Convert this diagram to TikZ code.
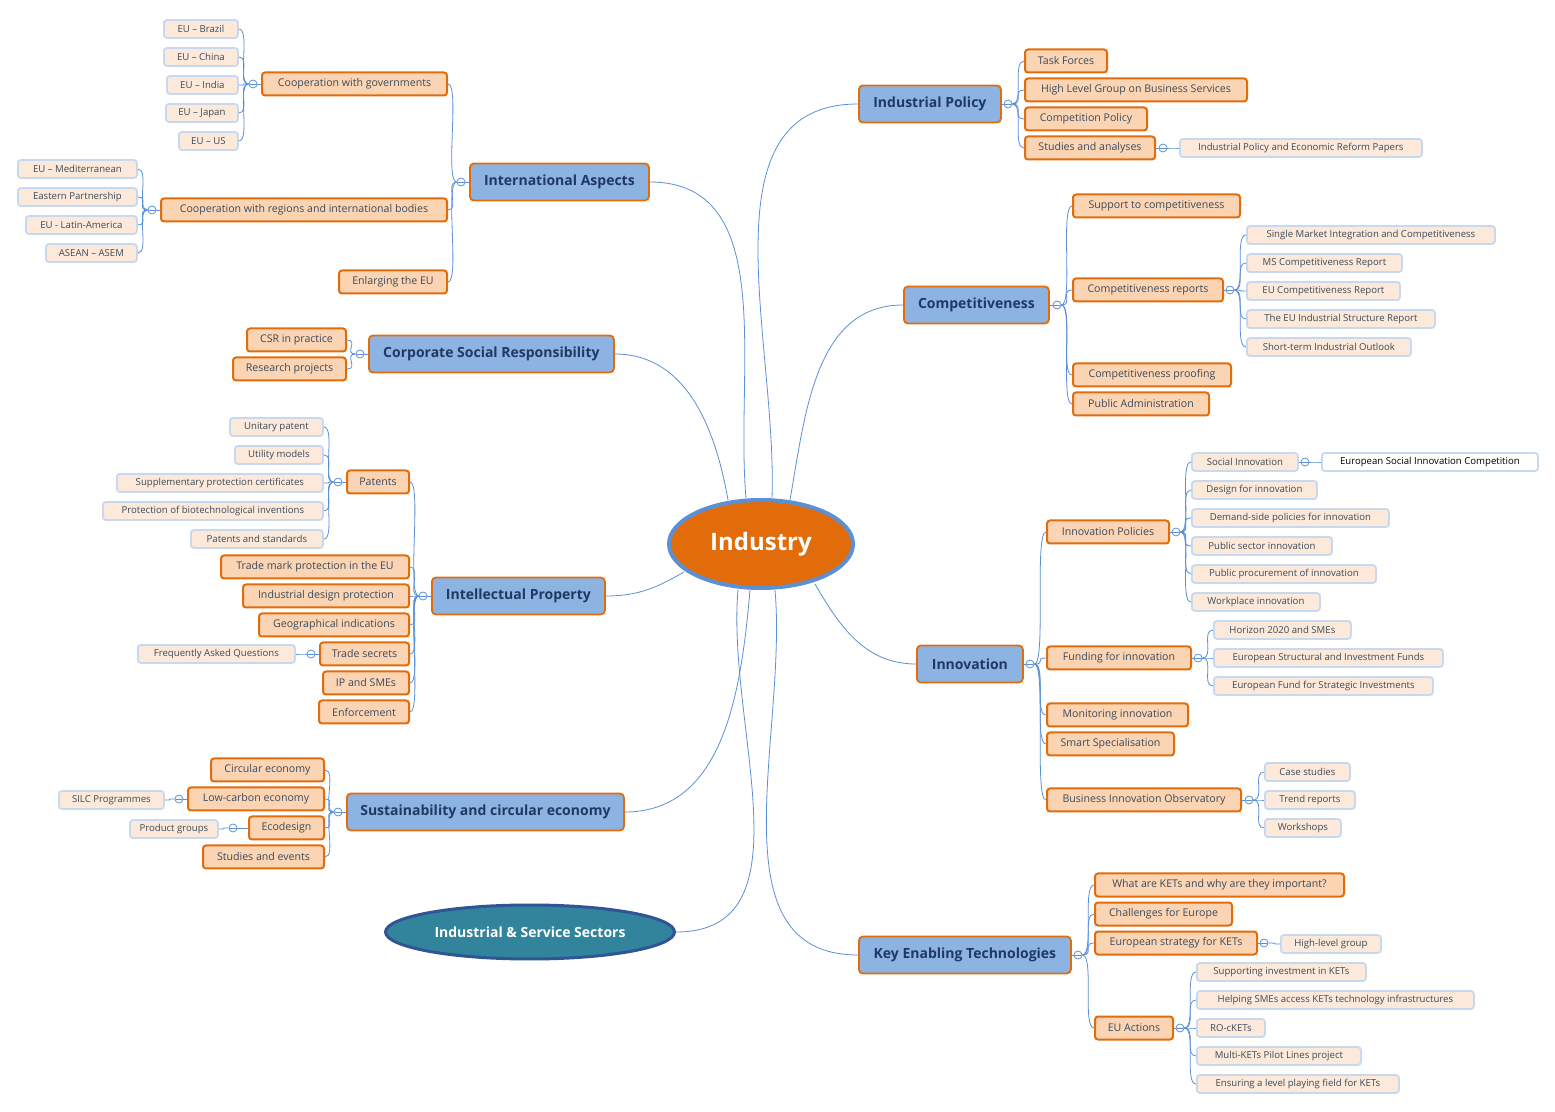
\documentclass[tikz,border=0pt]{standalone}
\usepackage{fontspec}
\setmainfont{Open Sans}
\usetikzlibrary{shapes.geometric}
\definecolor{linec}{HTML}{5B8FD6}
\definecolor{ora}{HTML}{E36C0A}
\definecolor{peach}{HTML}{FBD4B4}
\definecolor{lpeach}{HTML}{FDE9D9}
\definecolor{lblue}{HTML}{C6D9F1}
\definecolor{mblue}{HTML}{8DB3E2}
\definecolor{dblue}{HTML}{1F3864}
\definecolor{txt}{HTML}{3B4A5A}
\definecolor{teal}{HTML}{31849B}
\definecolor{navy}{HTML}{2F5597}
\tikzset{
 conn/.style={draw=linec,line width=0.4pt},
 lthree/.style={rectangle,rounded corners=1.5pt,draw=lblue,fill=lpeach,line width=0.9pt,text=txt,font=\fontsize{4.8}{6}\selectfont,minimum height=9pt,inner sep=1pt},
 lwhite/.style={lthree,fill=white,text=black},
 ltwo/.style={rectangle,rounded corners=1.5pt,draw=ora,fill=peach,line width=1pt,text=txt,font=\fontsize{5.3}{6.5}\selectfont,minimum height=11.5pt,inner sep=1pt},
 lone/.style={rectangle,rounded corners=2pt,draw=ora,fill=mblue,line width=0.9pt,text=dblue,font=\fontsize{7}{8}\selectfont\bfseries,minimum height=18.5pt,inner sep=1pt},
 col/.style={circle,draw=linec,fill=white,inner sep=0pt,minimum size=4pt,line width=0.4pt,
   path picture={\draw[linec,line width=0.35pt] ([xshift=-1.3pt]path picture bounding box.center) -- ([xshift=1.3pt]path picture bounding box.center);}}
}
\newcommand\bx[6]{\node[#2,anchor=west,minimum width={(#4-#3)*0.5pt}] (#1) at (#3,-#5) {#6};}
\newcommand\cl[3]{\node[col] (#1) at (#2,-#3) {};}
\newcommand\br[2]{\draw[conn] (#1.east) .. controls +(12,0) and +(-12,0) .. (#2.west);}
\newcommand\bl[2]{\draw[conn] (#1.west) .. controls +(-12,0) and +(12,0) .. (#2.east);}
\newcommand\pr[2]{\draw[conn] (#1.east) -- (#2.west);}
\newcommand\pl[2]{\draw[conn] (#1.west) -- (#2.east);}
\begin{document}
\begin{tikzpicture}[x=0.5pt,y=0.5pt]
\useasboundingbox[fill=white] (0,0) rectangle (1555,-1112);
% centre
\node[ellipse,fill=ora,draw=linec,line width=2pt,minimum width=92pt,minimum height=44pt,text=white,font=\fontsize{12}{14}\selectfont\bfseries] (ind) at (761,-544) {Industry};
\node[ellipse,fill=teal,draw=navy,line width=1.5pt,minimum width=116pt,minimum height=27pt,text=white,font=\fontsize{7}{8}\selectfont\bfseries] (iss) at (530,-932) {Industrial \& Service Sectors};
% level 1
\bx{ip}{lone}{858}{1000}{104}{Industrial Policy}
\bx{cp}{lone}{903}{1048}{305}{Competitiveness}
\bx{in}{lone}{916}{1022}{664}{Innovation}
\bx{ke}{lone}{858}{1070}{955}{Key Enabling Technologies}
\bx{ia}{lone}{469}{648}{182}{International Aspects}
\bx{cs}{lone}{368}{613}{354}{Corporate Social Responsibility}
\bx{pp}{lone}{431}{604}{596}{Intellectual Property}
\bx{su}{lone}{346}{623}{812}{Sustainability and circular economy}
% centre links
\draw[conn] (772,-498) to[out=88,in=180] (ip.west);
\draw[conn] (790,-500) to[out=80,in=180] (cp.west);
\draw[conn] (815,-584) to[out=-60,in=180] (in.west);
\draw[conn] (775,-590) to[out=-85,in=180] (ke.west);
\draw[conn] (746,-498) to[out=95,in=0] (ia.east);
\draw[conn] (728,-500) to[out=100,in=0] (cs.east);
\draw[conn] (684,-572) to[out=210,in=0] (pp.east);
\draw[conn] (750,-590) to[out=-95,in=0] (su.east);
\draw[conn] (738,-590) to[out=-95,in=0] (iss.east);
% Industrial Policy
\cl{cip}{1008}{104}\pr{ip}{cip}
\bx{ip1}{ltwo}{1024}{1106}{61}{Task Forces}
\bx{ip2}{ltwo}{1024}{1246}{90}{High Level Group on Business Services}
\bx{ip3}{ltwo}{1024}{1146}{119}{Competition Policy}
\bx{ip4}{ltwo}{1024}{1154}{148}{Studies and analyses}
\foreach \c in {ip1,ip2,ip3,ip4}{\br{cip}{\c}}
\cl{cip4}{1163}{148}\pr{ip4}{cip4}
\bx{ip41}{lthree}{1179}{1421}{148}{Industrial Policy and Economic Reform Papers}
\br{cip4}{ip41}
% Competitiveness
\cl{ccp}{1057}{305}\pr{cp}{ccp}
\bx{cp1}{ltwo}{1072}{1239}{206}{Support to competitiveness}
\bx{cp2}{ltwo}{1072}{1222}{290}{Competitiveness reports}
\bx{cp3}{ltwo}{1072}{1230}{375}{Competitiveness proofing}
\bx{cp4}{ltwo}{1072}{1208}{404}{Public Administration}
\foreach \c in {cp1,cp2,cp3,cp4}{\br{ccp}{\c}}
\cl{ccp2}{1230}{290}\pr{cp2}{ccp2}
\bx{cr1}{lthree}{1246}{1494}{235}{Single Market Integration and Competitiveness}
\bx{cr2}{lthree}{1246}{1401}{263}{MS Competitiveness Report}
\bx{cr3}{lthree}{1246}{1399}{291}{EU Competitiveness Report}
\bx{cr4}{lthree}{1246}{1434}{319}{The EU Industrial Structure Report}
\bx{cr5}{lthree}{1246}{1410}{347}{Short-term Industrial Outlook}
\foreach \c in {cr1,cr2,cr3,cr4,cr5}{\br{ccp2}{\c}}
% Innovation
\cl{cin}{1030}{664}\pr{in}{cin}
\bx{in1}{ltwo}{1046}{1168}{532}{Innovation Policies}
\bx{in2}{ltwo}{1046}{1190}{658}{Funding for innovation}
\bx{in3}{ltwo}{1046}{1187}{715}{Monitoring innovation}
\bx{in4}{ltwo}{1046}{1173}{744}{Smart Specialisation}
\bx{in5}{ltwo}{1046}{1240}{800}{Business Innovation Observatory}
\foreach \c in {in1,in2,in3,in4,in5}{\br{cin}{\c}}
\cl{cin1}{1176}{532}\pr{in1}{cin1}
\bx{ia1}{lthree}{1191}{1297}{462}{Social Innovation}
\bx{ia2}{lthree}{1191}{1316}{490}{Design for innovation}
\bx{ia3}{lthree}{1191}{1388}{518}{Demand-side policies for innovation}
\bx{ia4}{lthree}{1191}{1331}{546}{Public sector innovation}
\bx{ia5}{lthree}{1191}{1375}{574}{Public procurement of innovation}
\bx{ia6}{lthree}{1191}{1319}{602}{Workplace innovation}
\foreach \c in {ia1,ia2,ia3,ia4,ia5,ia6}{\br{cin1}{\c}}
\cl{cia1}{1305}{462}\pr{ia1}{cia1}
\bx{ia11}{lwhite}{1321}{1537}{462}{European Social Innovation Competition}
\br{cia1}{ia11}
\cl{cin2}{1198}{658}\pr{in2}{cin2}
\bx{fu1}{lthree}{1213}{1350}{630}{Horizon 2020 and SMEs}
\bx{fu2}{lthree}{1213}{1442}{658}{European Structural and Investment Funds}
\bx{fu3}{lthree}{1213}{1432}{686}{European Fund for Strategic Investments}
\foreach \c in {fu1,fu2,fu3}{\br{cin2}{\c}}
\cl{cin5}{1249}{800}\pr{in5}{cin5}
\bx{bo1}{lthree}{1264}{1349}{772}{Case studies}
\bx{bo2}{lthree}{1264}{1354}{800}{Trend reports}
\bx{bo3}{lthree}{1264}{1340}{828}{Workshops}
\foreach \c in {bo1,bo2,bo3}{\br{cin5}{\c}}
% KETs
\cl{cke}{1078}{955}\pr{ke}{cke}
\bx{ke1}{ltwo}{1094}{1343}{885}{What are KETs and why are they important?}
\bx{ke2}{ltwo}{1094}{1231}{914}{Challenges for Europe}
\bx{ke3}{ltwo}{1094}{1256}{943}{European strategy for KETs}
\bx{ke4}{ltwo}{1094}{1172}{1028}{EU Actions}
\foreach \c in {ke1,ke2,ke3,ke4}{\br{cke}{\c}}
\cl{cke3}{1264}{943}\pr{ke3}{cke3}
\bx{ke31}{lthree}{1280}{1380}{944}{High-level group}
\br{cke3}{ke31}
\cl{cke4}{1180}{1028}\pr{ke4}{cke4}
\bx{ea1}{lthree}{1196}{1365}{972}{Supporting investment in KETs}
\bx{ea2}{lthree}{1196}{1473}{1000}{Helping SMEs access KETs technology infrastructures}
\bx{ea3}{lthree}{1196}{1264}{1028}{RO-cKETs}
\bx{ea4}{lthree}{1196}{1360}{1056}{Multi-KETs Pilot Lines project}
\bx{ea5}{lthree}{1196}{1398}{1084}{Ensuring a level playing field for KETs}
\foreach \c in {ea1,ea2,ea3,ea4,ea5}{\br{cke4}{\c}}
% International Aspects
\cl{cia}{461}{182}\pl{ia}{cia}
\bx{iag}{ltwo}{261}{446}{84}{Cooperation with governments}
\bx{iar}{ltwo}{160}{446}{210}{Cooperation with regions and international bodies}
\bx{iae}{ltwo}{338}{446}{282}{Enlarging the EU}
\foreach \c in {iag,iar,iae}{\bl{cia}{\c}}
\cl{ciag}{253}{84}\pl{iag}{ciag}
\bx{g1}{lthree}{163}{237}{29}{EU – Brazil}
\bx{g2}{lthree}{163}{237}{57}{EU – China}
\bx{g3}{lthree}{166}{237}{85}{EU – India}
\bx{g4}{lthree}{165}{237}{113}{EU – Japan}
\bx{g5}{lthree}{178}{237}{141}{EU – US}
\foreach \c in {g1,g2,g3,g4,g5}{\bl{ciag}{\c}}
\cl{ciar}{152}{210}\pl{iar}{ciar}
\bx{r1}{lthree}{17}{136}{169}{EU – Mediterranean}
\bx{r2}{lthree}{17}{136}{197}{Eastern Partnership}
\bx{r3}{lthree}{25}{136}{225}{EU - Latin-America}
\bx{r4}{lthree}{45}{136}{253}{ASEAN – ASEM}
\foreach \c in {r1,r2,r3,r4}{\bl{ciar}{\c}}
% CSR
\cl{ccs}{360}{354}\pl{cs}{ccs}
\bx{cs1}{ltwo}{246}{345}{340}{CSR in practice}
\bx{cs2}{ltwo}{232}{345}{369}{Research projects}
\foreach \c in {cs1,cs2}{\bl{ccs}{\c}}
% IP
\cl{cpp}{423}{596}\pl{pp}{cpp}
\bx{pa}{ltwo}{346}{408}{482}{Patents}
\bx{pb}{ltwo}{220}{408}{567}{Trade mark protection in the EU}
\bx{pc}{ltwo}{242}{408}{596}{Industrial design protection}
\bx{pd}{ltwo}{258}{408}{625}{Geographical indications}
\bx{pe}{ltwo}{319}{408}{654}{Trade secrets}
\bx{pf}{ltwo}{322}{408}{683}{IP and SMEs}
\bx{pg}{ltwo}{318}{408}{712}{Enforcement}
\foreach \c in {pa,pb,pc,pd,pe,pf,pg}{\bl{cpp}{\c}}
\cl{cpa}{338}{482}\pl{pa}{cpa}
\bx{pa1}{lthree}{229}{322}{427}{Unitary patent}
\bx{pa2}{lthree}{234}{322}{455}{Utility models}
\bx{pa3}{lthree}{116}{322}{483}{Supplementary protection certificates}
\bx{pa4}{lthree}{102}{322}{511}{Protection of biotechnological inventions}
\bx{pa5}{lthree}{190}{322}{539}{Patents and standards}
\foreach \c in {pa1,pa2,pa3,pa4,pa5}{\bl{cpa}{\c}}
\cl{cpe}{311}{654}\pl{pe}{cpe}
\bx{pe1}{lthree}{137}{294}{654}{Frequently Asked Questions}
\bl{cpe}{pe1}
% Sustainability
\cl{csu}{338}{812}\pl{su}{csu}
\bx{s1}{ltwo}{210}{323}{770}{Circular economy}
\bx{s2}{ltwo}{187}{323}{799}{Low-carbon economy}
\bx{s3}{ltwo}{248}{323}{828}{Ecodesign}
\bx{s4}{ltwo}{202}{323}{857}{Studies and events}
\foreach \c in {s1,s2,s3,s4}{\bl{csu}{\c}}
\cl{csc2}{179}{799}\pl{s2}{csc2}
\bx{s21}{lthree}{58}{163}{800}{SILC Programmes}
\bl{csc2}{s21}
\cl{csc3}{233}{828}\pl{s3}{csc3}
\bx{s31}{lthree}{129}{217}{829}{Product groups}
\bl{csc3}{s31}
\end{tikzpicture}
\end{document}
